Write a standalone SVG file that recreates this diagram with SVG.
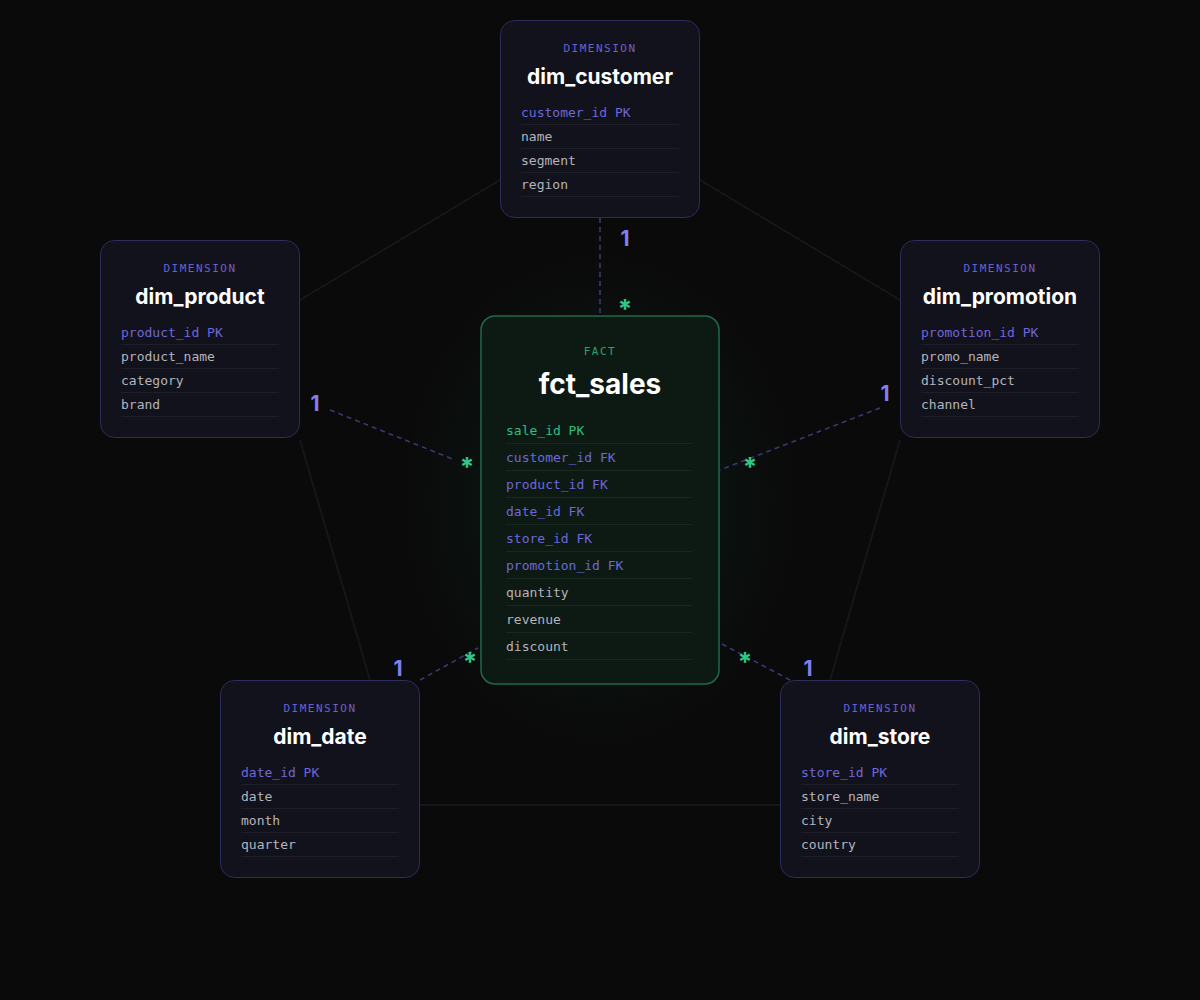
<svg xmlns="http://www.w3.org/2000/svg" width="1200" height="1000" viewBox="0 0 1200 1000">
<defs>
<style>
.dim rect.box{fill:#12121c;stroke:#2e2c5a;stroke-width:1}
.lbl{font-family:"DejaVu Sans Mono","Liberation Mono",monospace;font-size:11px;letter-spacing:1.5px;text-anchor:middle}
.ttl{font-family:Inter,"Liberation Sans",sans-serif;font-size:21px;font-weight:700;fill:#ffffff;text-anchor:middle}
.fld{font-family:"DejaVu Sans Mono","Liberation Mono",monospace;font-size:13px;fill:#b4b4bc}
.key{fill:#6e68d8}
.pk{fill:#2fbf80}
.sep{stroke:#1f1f2a;stroke-width:1}
.conn{stroke:#3a3870;stroke-width:1.6;stroke-dasharray:5 4;fill:none}
.faint{stroke:#16161c;stroke-width:2;fill:none}
.one{font-family:Inter,"Liberation Sans",sans-serif;font-size:21px;font-weight:700;fill:#8080ee;text-anchor:middle}
.many{font-family:Inter,"Liberation Sans",sans-serif;font-size:26px;font-weight:700;fill:#2fc888;text-anchor:middle}
</style>
<radialGradient id="glow" cx="0.5" cy="0.5" r="0.5">
<stop offset="0" stop-color="#10a060" stop-opacity="0.12"/>
<stop offset="1" stop-color="#10a060" stop-opacity="0"/>
</radialGradient>
</defs>
<rect width="1200" height="1000" fill="#0a0a0a"/>
<ellipse cx="600" cy="500" rx="200" ry="250" fill="url(#glow)"/>
<g id="connectors">
<path class="faint" d="M500 180 L300 300 M300 440 L370 680 M420 805 L780 805 M830 680 L900 440 M900 300 L700 180"/>
<line class="conn" x1="600" y1="218" x2="600" y2="315"/>
<line class="conn" x1="330" y1="410" x2="455" y2="460"/>
<line class="conn" x1="880" y1="408" x2="720" y2="470"/>
<line class="conn" x1="420" y1="680" x2="478" y2="648"/>
<line class="conn" x1="790" y1="680" x2="722" y2="644"/>
<text class="one" x="625" y="246">1</text>
<text class="many" x="625" y="318">*</text>
<text class="one" x="315" y="411">1</text>
<text class="many" x="467" y="476">*</text>
<text class="one" x="885" y="401">1</text>
<text class="many" x="750" y="476">*</text>
<text class="one" x="398" y="676">1</text>
<text class="many" x="470" y="671">*</text>
<text class="one" x="808" y="676">1</text>
<text class="many" x="745" y="671">*</text>
</g>
<g id="fct_sales">
<rect x="481" y="316" width="238" height="368" rx="14" fill="#0d1a14" stroke="#1f6a48" stroke-width="1.5"/>
<text class="lbl" x="600" y="355" fill="#2fa070">FACT</text>
<text class="ttl" x="600" y="394" style="font-size:28px">fct_sales</text>
<g class="fld">
<text x="506" y="435" class="pk">sale_id PK</text>
<text x="506" y="462" class="key">customer_id FK</text>
<text x="506" y="489" class="key">product_id FK</text>
<text x="506" y="516" class="key">date_id FK</text>
<text x="506" y="543" class="key">store_id FK</text>
<text x="506" y="570" class="key">promotion_id FK</text>
<text x="506" y="597">quantity</text>
<text x="506" y="624">revenue</text>
<text x="506" y="651">discount</text>
</g>
<path class="sep" stroke="#16281f" d="M506 443.5H692M506 470.5H692M506 497.5H692M506 524.5H692M506 551.5H692M506 578.5H692M506 605.5H692M506 632.5H692M506 659.5H692" style="stroke:#16281f"/>
</g>
<g id="dim_customer" class="dim" transform="translate(500,20)">
<rect class="box" x="0.5" y="0.5" width="199" height="197" rx="14"/>
<text class="lbl" x="100" y="32" fill="#6a60d0">DIMENSION</text>
<text class="ttl" x="100" y="64">dim_customer</text>
<g class="fld"><text x="21" y="97" class="key">customer_id PK</text><text x="21" y="121">name</text><text x="21" y="145">segment</text><text x="21" y="169">region</text></g>
<path class="sep" d="M21 104.5H179M21 128.5H179M21 152.5H179M21 176.5H179"/>
</g>
<g id="dim_product" class="dim" transform="translate(100,240)">
<rect class="box" x="0.5" y="0.5" width="199" height="197" rx="14"/>
<text class="lbl" x="100" y="32" fill="#6a60d0">DIMENSION</text>
<text class="ttl" x="100" y="64">dim_product</text>
<g class="fld"><text x="21" y="97" class="key">product_id PK</text><text x="21" y="121">product_name</text><text x="21" y="145">category</text><text x="21" y="169">brand</text></g>
<path class="sep" d="M21 104.5H179M21 128.5H179M21 152.5H179M21 176.5H179"/>
</g>
<g id="dim_promotion" class="dim" transform="translate(900,240)">
<rect class="box" x="0.5" y="0.5" width="199" height="197" rx="14"/>
<text class="lbl" x="100" y="32" fill="#6a60d0">DIMENSION</text>
<text class="ttl" x="100" y="64">dim_promotion</text>
<g class="fld"><text x="21" y="97" class="key">promotion_id PK</text><text x="21" y="121">promo_name</text><text x="21" y="145">discount_pct</text><text x="21" y="169">channel</text></g>
<path class="sep" d="M21 104.5H179M21 128.5H179M21 152.5H179M21 176.5H179"/>
</g>
<g id="dim_date" class="dim" transform="translate(220,680)">
<rect class="box" x="0.5" y="0.5" width="199" height="197" rx="14"/>
<text class="lbl" x="100" y="32" fill="#6a60d0">DIMENSION</text>
<text class="ttl" x="100" y="64">dim_date</text>
<g class="fld"><text x="21" y="97" class="key">date_id PK</text><text x="21" y="121">date</text><text x="21" y="145">month</text><text x="21" y="169">quarter</text></g>
<path class="sep" d="M21 104.5H179M21 128.5H179M21 152.5H179M21 176.5H179"/>
</g>
<g id="dim_store" class="dim" transform="translate(780,680)">
<rect class="box" x="0.5" y="0.5" width="199" height="197" rx="14"/>
<text class="lbl" x="100" y="32" fill="#6a60d0">DIMENSION</text>
<text class="ttl" x="100" y="64">dim_store</text>
<g class="fld"><text x="21" y="97" class="key">store_id PK</text><text x="21" y="121">store_name</text><text x="21" y="145">city</text><text x="21" y="169">country</text></g>
<path class="sep" d="M21 104.5H179M21 128.5H179M21 152.5H179M21 176.5H179"/>
</g>
</svg>
